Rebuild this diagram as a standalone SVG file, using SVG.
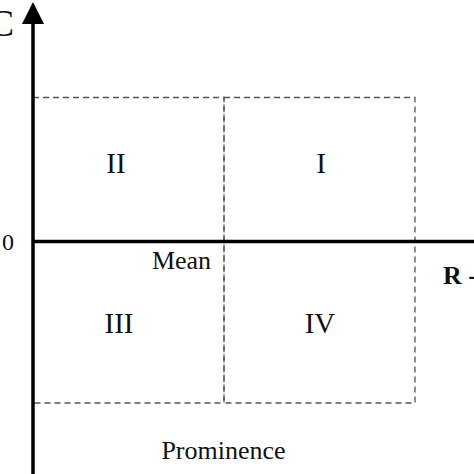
<svg xmlns="http://www.w3.org/2000/svg" width="474" height="474" viewBox="0 0 474 474">
<style>
.t{font-family:"Liberation Serif","Times New Roman",serif;fill:#111;}
.q{font-size:29px;text-anchor:middle;}
.l{font-size:26px;text-anchor:middle;}
.d{fill:none;stroke:#555;stroke-width:1.3;stroke-dasharray:6 4;}
.ax{stroke:#000;stroke-width:3.5;fill:none;}
</style>
<rect width="474" height="474" fill="#fff"/>
<g id="quadrants">
<rect id="q-left" class="d" x="33" y="97.5" width="191" height="305.5"/>
<rect id="q-right" class="d" x="224" y="97.5" width="191" height="305.5"/>
</g>
<g id="connectors">
<line class="ax" x1="33" y1="474" x2="33" y2="20"/>
<polygon points="33,2 22,24 44,24" fill="#000"/>
<line class="ax" x1="33" y1="241.5" x2="474" y2="241.5"/>
</g>
<g id="labels">
<text class="t q" x="116" y="173">II</text>
<text class="t q" x="321" y="173">I</text>
<text class="t q" x="119" y="333">III</text>
<text class="t q" x="320" y="333">IV</text>
<text class="t l" x="181.5" y="269">Mean</text>
<text class="t l" x="223.5" y="459">Prominence</text>
<text class="t" x="2" y="250" font-size="24">0</text>
<text class="t" x="14" y="36" font-size="38" text-anchor="end">C</text>
<text class="t" x="443" y="284" font-size="26" font-weight="bold">R -</text>
</g>
</svg>
